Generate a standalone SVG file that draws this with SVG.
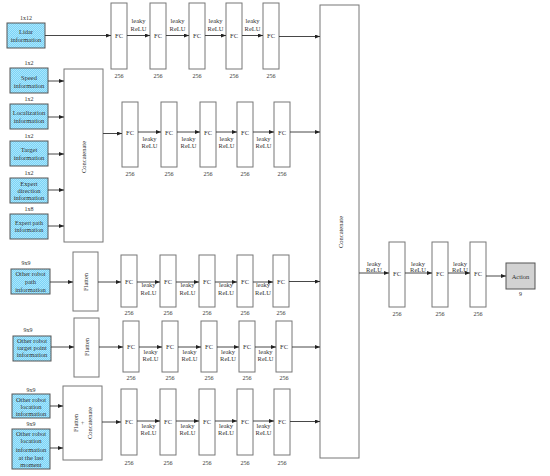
<svg xmlns="http://www.w3.org/2000/svg" width="550" height="476" viewBox="0 0 550 476">
<defs>
<pattern id="dith" width="2" height="2" patternUnits="userSpaceOnUse">
<rect width="2" height="2" fill="#7cd3f6"/>
<rect width="1" height="1" fill="#a9e6fc"/>
<rect x="1" y="1" width="1" height="1" fill="#a9e6fc"/>
</pattern>
<marker id="ah" markerWidth="5" markerHeight="4" refX="5" refY="2" orient="auto" markerUnits="userSpaceOnUse">
<path d="M0,0 L5,2 L0,4 Z" fill="#222"/>
</marker>
</defs>
<style>
text{font-family:"Liberation Serif","Times New Roman",serif;fill:#333;text-anchor:middle}
.t{font-size:6.5px}
.s{font-size:6px}
.box{fill:#fff;stroke:#777;stroke-width:1}
.in{fill:url(#dith);stroke:#555;stroke-width:1}
.act{fill:#d2d2d2;stroke:#555;stroke-width:1}
.c line{stroke:#333;stroke-width:0.9;marker-end:url(#ah)}
</style>
<rect width="550" height="476" fill="#fff"/>

<!-- Input nodes -->
<g id="lidar"><rect class="in" x="7" y="23" width="38" height="25"/><text class="s" x="26" y="19.5">1x12</text><text class="t" x="26" y="34">Lidar</text><text class="t" x="26" y="41.5">information</text></g>
<g id="speed"><rect class="in" x="10" y="68" width="38" height="25"/><text class="s" x="29" y="64.5">1x2</text><text class="t" x="29" y="80">Speed</text><text class="t" x="29" y="87.5">information</text></g>
<g id="loc"><rect class="in" x="10" y="104" width="38" height="25"/><text class="s" x="29" y="100.5">1x2</text><text class="t" x="29" y="115">Localization</text><text class="t" x="29" y="123">information</text></g>
<g id="target"><rect class="in" x="10" y="141" width="38" height="25"/><text class="s" x="29" y="137.5">1x2</text><text class="t" x="29" y="151.5">Target</text><text class="t" x="29" y="159.5">information</text></g>
<g id="expdir"><rect class="in" x="10" y="178" width="38" height="25"/><text class="s" x="29" y="174.5">1x2</text><text class="t" x="29" y="185.5">Expert</text><text class="t" x="29" y="193">direction</text><text class="t" x="29" y="200">information</text></g>
<g id="exppath"><rect class="in" x="10" y="214" width="38" height="25"/><text class="s" x="29" y="210.5">1x8</text><text class="s" x="29" y="225">Expert path</text><text class="s" x="29" y="232">information</text></g>
<g id="orpath"><rect class="in" x="11" y="269" width="39" height="25"/><text class="s" x="26" y="265">9x9</text><text class="t" x="30.5" y="275.5">Other robot</text><text class="t" x="30.5" y="284">path</text><text class="t" x="30.5" y="291.5">information</text></g>
<g id="ortarget"><rect class="in" x="13" y="336" width="38" height="25"/><text class="s" x="28" y="331.5">9x9</text><text class="t" x="32" y="342.5">Other robot</text><text class="t" x="32" y="349.5">target point</text><text class="t" x="32" y="357">information</text></g>
<g id="orloc"><rect class="in" x="12" y="394" width="38" height="24"/><text class="s" x="31" y="391.5">9x9</text><text class="t" x="31" y="401.5">Other robot</text><text class="t" x="31" y="409">location</text><text class="t" x="31" y="416">information</text></g>
<g id="orlast"><rect class="in" x="12" y="429" width="38" height="40"/><text class="s" x="31" y="426">9x9</text><text class="t" x="31" y="435.5">Other robot</text><text class="t" x="31" y="443">location</text><text class="t" x="31" y="451.5">information</text><text class="t" x="31" y="459.5">at the last</text><text class="t" x="31" y="467">moment</text></g>

<!-- Merge nodes -->
<g id="concat1"><rect class="box" x="64" y="69" width="39" height="173"/><text class="t" transform="translate(86,157) rotate(-90)">Concatenate</text></g>
<g id="flat1"><rect class="box" x="73" y="252" width="25" height="59"/><text class="t" transform="translate(88,282) rotate(-90)">Flatten</text></g>
<g id="flat2"><rect class="box" x="74" y="318" width="25" height="59"/><text class="t" transform="translate(89,347) rotate(-90)">Flatten</text></g>
<g id="flatcat"><rect class="box" x="63" y="386" width="39" height="74"/><text class="t" transform="translate(78,423) rotate(-90)">Flatten</text><text class="t" transform="translate(85,423) rotate(-90)">+</text><text class="t" transform="translate(92,423) rotate(-90)">Concatenate</text></g>
<g id="concatbig"><rect class="box" x="320" y="5" width="39" height="453"/><text class="t" transform="translate(343,232) rotate(-90)">Concatenate</text></g>

<!-- Row 1 FC -->
<g id="r1fc1"><rect class="box" x="111" y="3" width="16" height="66"/><text class="t" x="119" y="38">FC</text><text class="s" x="119" y="78">256</text></g>
<g id="r1fc2"><rect class="box" x="150" y="3" width="16" height="66"/><text class="t" x="158" y="38">FC</text><text class="s" x="158" y="78">256</text></g>
<g id="r1fc3"><rect class="box" x="189" y="3" width="16" height="66"/><text class="t" x="197" y="38">FC</text><text class="s" x="197" y="78">256</text></g>
<g id="r1fc4"><rect class="box" x="226" y="3" width="16" height="66"/><text class="t" x="234" y="38">FC</text><text class="s" x="234" y="78">256</text></g>
<g id="r1fc5"><rect class="box" x="263" y="3" width="16" height="66"/><text class="t" x="271" y="38">FC</text><text class="s" x="271" y="78">256</text></g>

<!-- Row 2 FC -->
<g id="r2fc1"><rect class="box" x="122" y="102" width="16" height="65"/><text class="t" x="130" y="135">FC</text><text class="s" x="130" y="176">256</text></g>
<g id="r2fc2"><rect class="box" x="161" y="102" width="16" height="65"/><text class="t" x="169" y="135">FC</text><text class="s" x="169" y="176">256</text></g>
<g id="r2fc3"><rect class="box" x="200" y="102" width="16" height="65"/><text class="t" x="208" y="135">FC</text><text class="s" x="208" y="176">256</text></g>
<g id="r2fc4"><rect class="box" x="237" y="102" width="16" height="65"/><text class="t" x="245" y="135">FC</text><text class="s" x="245" y="176">256</text></g>
<g id="r2fc5"><rect class="box" x="274" y="102" width="16" height="65"/><text class="t" x="282" y="135">FC</text><text class="s" x="282" y="176">256</text></g>

<!-- Row 3 FC -->
<g id="r3fc1"><rect class="box" x="121" y="255" width="16" height="52"/><text class="t" x="129" y="284">FC</text><text class="s" x="129" y="314.5">256</text></g>
<g id="r3fc2"><rect class="box" x="160" y="255" width="16" height="52"/><text class="t" x="168" y="284">FC</text><text class="s" x="168" y="314.5">256</text></g>
<g id="r3fc3"><rect class="box" x="199" y="255" width="16" height="52"/><text class="t" x="207" y="284">FC</text><text class="s" x="207" y="314.5">256</text></g>
<g id="r3fc4"><rect class="box" x="237" y="255" width="16" height="52"/><text class="t" x="245" y="284">FC</text><text class="s" x="245" y="314.5">256</text></g>
<g id="r3fc5"><rect class="box" x="273" y="255" width="16" height="52"/><text class="t" x="281" y="284">FC</text><text class="s" x="281" y="314.5">256</text></g>

<!-- Row 4 FC -->
<g id="r4fc1"><rect class="box" x="123" y="321" width="16" height="51"/><text class="t" x="131" y="349">FC</text><text class="s" x="131" y="379.5">256</text></g>
<g id="r4fc2"><rect class="box" x="162" y="321" width="16" height="51"/><text class="t" x="170" y="349">FC</text><text class="s" x="170" y="379.5">256</text></g>
<g id="r4fc3"><rect class="box" x="201" y="321" width="16" height="51"/><text class="t" x="209" y="349">FC</text><text class="s" x="209" y="379.5">256</text></g>
<g id="r4fc4"><rect class="box" x="239" y="321" width="16" height="51"/><text class="t" x="247" y="349">FC</text><text class="s" x="247" y="379.5">256</text></g>
<g id="r4fc5"><rect class="box" x="276" y="321" width="16" height="51"/><text class="t" x="284" y="349">FC</text><text class="s" x="284" y="379.5">256</text></g>

<!-- Row 5 FC -->
<g id="r5fc1"><rect class="box" x="121" y="389" width="16" height="66"/><text class="t" x="129" y="423.5">FC</text><text class="s" x="129" y="464.5">256</text></g>
<g id="r5fc2"><rect class="box" x="160" y="389" width="16" height="66"/><text class="t" x="168" y="423.5">FC</text><text class="s" x="168" y="464.5">256</text></g>
<g id="r5fc3"><rect class="box" x="199" y="389" width="16" height="66"/><text class="t" x="207" y="423.5">FC</text><text class="s" x="207" y="464.5">256</text></g>
<g id="r5fc4"><rect class="box" x="237" y="389" width="16" height="66"/><text class="t" x="245" y="423.5">FC</text><text class="s" x="245" y="464.5">256</text></g>
<g id="r5fc5"><rect class="box" x="274" y="389" width="16" height="66"/><text class="t" x="282" y="423.5">FC</text><text class="s" x="282" y="464.5">256</text></g>

<!-- Final FC -->
<g id="ffc1"><rect class="box" x="389" y="242" width="16" height="65"/><text class="t" x="397" y="275.5">FC</text><text class="s" x="397" y="315.5">256</text></g>
<g id="ffc2"><rect class="box" x="432" y="242" width="16" height="65"/><text class="t" x="440" y="275.5">FC</text><text class="s" x="440" y="315.5">256</text></g>
<g id="ffc3"><rect class="box" x="470" y="242" width="16" height="65"/><text class="t" x="478" y="275.5">FC</text><text class="s" x="478" y="315.5">256</text></g>
<g id="action"><rect class="act" x="506" y="263" width="29" height="26"/><text class="t" x="520.5" y="278.5">Action</text><text class="s" x="520.5" y="296">9</text></g>

<!-- Connectors -->
<g id="connectors" class="c">
<line x1="45" y1="35.5" x2="111" y2="35.5"/>
<line x1="127" y1="35.5" x2="150" y2="35.5"/>
<line x1="166" y1="35.5" x2="189" y2="35.5"/>
<line x1="205" y1="35.5" x2="226" y2="35.5"/>
<line x1="242" y1="35.5" x2="263" y2="35.5"/>
<line x1="279" y1="36.5" x2="320" y2="36.5"/>

<line x1="48" y1="81" x2="64" y2="81"/>
<line x1="48" y1="117" x2="64" y2="117"/>
<line x1="48" y1="154" x2="64" y2="154"/>
<line x1="48" y1="190" x2="64" y2="190"/>
<line x1="48" y1="226" x2="64" y2="226"/>
<line x1="103" y1="133.5" x2="122" y2="133.5"/>
<line x1="138" y1="132" x2="161" y2="132"/>
<line x1="177" y1="132" x2="200" y2="132"/>
<line x1="216" y1="132" x2="237" y2="132"/>
<line x1="253" y1="132" x2="274" y2="132"/>
<line x1="290" y1="132" x2="320" y2="132"/>

<line x1="50" y1="282" x2="73" y2="282"/>
<line x1="98" y1="282" x2="121" y2="282"/>
<line x1="137" y1="282" x2="160" y2="282"/>
<line x1="176" y1="282" x2="199" y2="282"/>
<line x1="215" y1="282" x2="237" y2="282"/>
<line x1="253" y1="282" x2="273" y2="282"/>
<line x1="289" y1="281.5" x2="320" y2="281.5"/>

<line x1="51" y1="347" x2="74" y2="347"/>
<line x1="99" y1="347" x2="123" y2="347"/>
<line x1="139" y1="347" x2="162" y2="347"/>
<line x1="178" y1="347" x2="201" y2="347"/>
<line x1="217" y1="347" x2="239" y2="347"/>
<line x1="255" y1="347" x2="276" y2="347"/>
<line x1="292" y1="347" x2="320" y2="347"/>

<line x1="50" y1="406" x2="63" y2="406"/>
<line x1="50" y1="448" x2="63" y2="448"/>
<line x1="102" y1="422" x2="121" y2="422"/>
<line x1="137" y1="421" x2="160" y2="421"/>
<line x1="176" y1="421" x2="199" y2="421"/>
<line x1="215" y1="421" x2="237" y2="421"/>
<line x1="253" y1="421" x2="274" y2="421"/>
<line x1="290" y1="421.5" x2="320" y2="421.5"/>

<line x1="359" y1="273" x2="389" y2="273"/>
<line x1="405" y1="273" x2="432" y2="273"/>
<line x1="448" y1="273" x2="470" y2="273"/>
<line x1="486" y1="276" x2="506" y2="276"/>
</g>

<!-- Activation labels -->
<g id="labels" class="t">
<text class="t" x="138.5" y="23">leaky</text><text class="t" x="138.5" y="30.5">ReLU</text>
<text class="t" x="177.5" y="23">leaky</text><text class="t" x="177.5" y="30.5">ReLU</text>
<text class="t" x="215.5" y="23">leaky</text><text class="t" x="215.5" y="30.5">ReLU</text>
<text class="t" x="252.5" y="23">leaky</text><text class="t" x="252.5" y="30.5">ReLU</text>

<text class="t" x="149.5" y="140.5">leaky</text><text class="t" x="149.5" y="147.5">ReLU</text>
<text class="t" x="188.5" y="140.5">leaky</text><text class="t" x="188.5" y="147.5">ReLU</text>
<text class="t" x="226.5" y="140.5">leaky</text><text class="t" x="226.5" y="147.5">ReLU</text>
<text class="t" x="263.5" y="140.5">leaky</text><text class="t" x="263.5" y="147.5">ReLU</text>

<text class="t" x="148.5" y="287">leaky</text><text class="t" x="148.5" y="294.5">ReLU</text>
<text class="t" x="187.5" y="287">leaky</text><text class="t" x="187.5" y="294.5">ReLU</text>
<text class="t" x="226" y="287">leaky</text><text class="t" x="226" y="294.5">ReLU</text>
<text class="t" x="263" y="287">leaky</text><text class="t" x="263" y="294.5">ReLU</text>

<text class="t" x="150.5" y="353.5">leaky</text><text class="t" x="150.5" y="361">ReLU</text>
<text class="t" x="189.5" y="353.5">leaky</text><text class="t" x="189.5" y="361">ReLU</text>
<text class="t" x="228" y="353.5">leaky</text><text class="t" x="228" y="361">ReLU</text>
<text class="t" x="265.5" y="353.5">leaky</text><text class="t" x="265.5" y="361">ReLU</text>

<text class="t" x="148.5" y="427.5">leaky</text><text class="t" x="148.5" y="434.5">ReLU</text>
<text class="t" x="187.5" y="427.5">leaky</text><text class="t" x="187.5" y="434.5">ReLU</text>
<text class="t" x="226" y="427.5">leaky</text><text class="t" x="226" y="434.5">ReLU</text>
<text class="t" x="263.5" y="427.5">leaky</text><text class="t" x="263.5" y="434.5">ReLU</text>

<text class="t" x="374" y="265.5">leaky</text><text class="t" x="374" y="272">ReLU</text>
<text class="t" x="418" y="265.5">leaky</text><text class="t" x="418" y="272">ReLU</text>
<text class="t" x="460" y="265.5">leaky</text><text class="t" x="460" y="272">ReLU</text>
</g>
</svg>
